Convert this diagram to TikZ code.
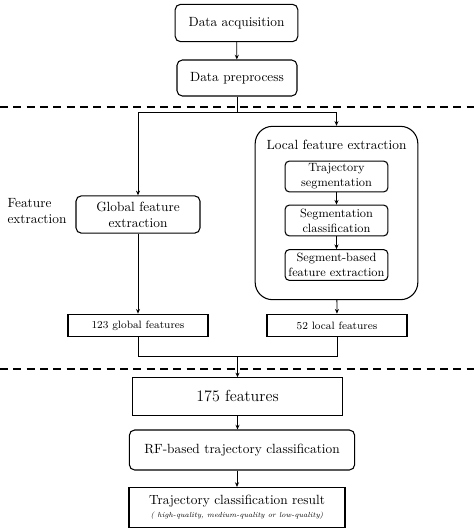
\documentclass[tikz,border=0pt]{standalone}
\usepackage{tikz}
\usetikzlibrary{arrows.meta, positioning}
\tikzset{
    block/.style={rectangle, draw, thick, rounded corners=4pt, align=center, inner sep=1pt},
    plain/.style={rectangle, draw, thick, align=center, inner sep=1pt},
    inner/.style={block, minimum width=77pt, minimum height=23pt, font=\small, rounded corners=3pt},
    arrow/.style={semithick, -{Stealth[length=3.5pt, width=3pt]}},
    link/.style={semithick},
    divider/.style={thick, dash pattern=on 6pt off 4pt}
}
\begin{document}
\begin{tikzpicture}[x=0.75pt, y=-0.75pt]
            \useasboundingbox (0,0) rectangle (474,532);
            % top stage
            \node[block, minimum width=92pt, minimum height=28pt] (acq) at (236.5,23) {Data acquisition};
            \node[block, minimum width=90pt, minimum height=27pt] (prep) at (237,78) {Data preprocess};
            \draw[arrow] (acq) -- (prep);
            \draw[divider] (0,107) -- (474,107);
            % feature extraction stage
            \node[align=left] (fe) at (37,211) {Feature\\extraction};
            \node[block, minimum width=93pt, minimum height=28pt] (glob) at (138,214.5) {Global feature\\extraction};
            \node[draw, thick, rounded corners=13pt, minimum width=122pt, minimum height=130pt] (local) at (336.5,213) {};
            \node (localtitle) at (336.5,145) {Local feature extraction};
            \node[inner] (seg) at (336.5,176.5) {Trajectory\\segmentation};
            \node[inner] (cls) at (336.5,220.5) {Segmentation\\classification};
            \node[inner] (sbf) at (336.5,265) {Segment-based\\feature extraction};
            \draw[arrow] (seg) -- (cls);
            \draw[arrow] (cls) -- (sbf);
            \coordinate (split) at (237,112);
            \draw[link] (prep.south) -- (split);
            \draw[arrow] (split) -| (glob.north);
            \draw[arrow] (split) -| (local.north);
            \node[plain, minimum width=105pt, minimum height=17pt, font=\footnotesize] (gf) at (138,325.5) {123 global features};
            \node[plain, minimum width=105pt, minimum height=17pt, font=\footnotesize] (lf) at (337,325.5) {52 local features};
            \draw[arrow] (glob) -- (gf);
            \draw[arrow] (local) -- (lf);
            \coordinate (merge) at (237.5,356);
            \draw[link] (gf.south) |- (merge);
            \draw[link] (lf.south) |- (merge);
            \draw[divider] (0,369) -- (474,369);
            % classification stage
            \node[plain, minimum width=157pt, minimum height=28pt, font=\large] (all) at (237.5,396.5) {175 features};
            \draw[arrow] (merge) -- (all.north);
            \node[block, minimum width=169pt, minimum height=30pt] (rf) at (242,450) {RF-based trajectory classification};
            \node[plain, minimum width=162pt, minimum height=30pt] (res) at (237,507.5) {Trajectory classification result\\[-2pt]{\fontsize{5.5}{6.5}\selectfont\itshape ( high-quality, medium-quality or low-quality)}};
            \draw[arrow] (all.south) -- (all.south |- rf.north);
            \draw[arrow] (res.north |- rf.south) -- (res.north);
        \end{tikzpicture}
\end{document}
